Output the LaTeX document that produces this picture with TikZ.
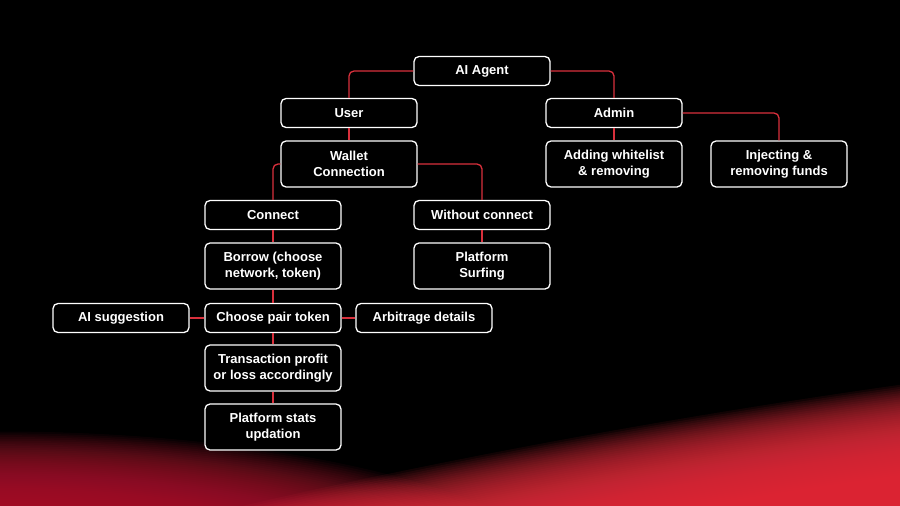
\documentclass[tikz,border=0pt]{standalone}
\usepackage{fontspec}
\setmainfont{Liberation Sans}
\definecolor{linkred}{HTML}{D9303C}
\definecolor{glowred}{HTML}{E8303F}
\definecolor{darkglow}{HTML}{B81B33}
\begin{document}
\begin{tikzpicture}[x=1pt,y=-1pt,
  box/.style={draw=white, line width=1.3pt, rounded corners=5pt, fill=black,
    text=white, minimum width=136pt, align=center, inner sep=0pt,
    font=\bfseries\fontsize{13}{16}\selectfont},
  one/.style={box, minimum height=29pt},
  two/.style={box, minimum height=46pt},
  link/.style={draw=linkred, line width=1.3pt, rounded corners=5pt}]
% background
\fill[black] (0,0) rectangle (900,506);
\begin{scope}
\clip (0,0) rectangle (900,506);
\foreach \i in {0,...,50}{
  \pgfmathsetmacro\s{1.3-0.0125*\i}
  \fill[darkglow, opacity=0.06] (0,620) ellipse [x radius=\s*470pt, y radius=\s*145pt];
}
\foreach \i in {0,...,60}{
  \pgfmathsetmacro\s{1.35-0.0125*\i}
  \fill[glowred, opacity=0.075, rotate around={9:(800,625)}] (800,625) ellipse [x radius=\s*1000pt, y radius=\s*165pt];
}
\end{scope}
\useasboundingbox (0,0) rectangle (900,506);
% nodes
\node[one] (agent) at (482,71) {AI Agent};
\node[one] (user) at (349,113) {User};
\node[one] (admin) at (614,113) {Admin};
\node[two] (wallet) at (349,164) {Wallet\\Connection};
\node[two] (white) at (614,164) {Adding whitelist\\\& removing};
\node[two] (inject) at (779,164) {Injecting \&\\removing funds};
\node[one] (connect) at (273,215) {Connect};
\node[one] (without) at (482,215) {Without connect};
\node[two] (borrow) at (273,266) {Borrow (choose\\network, token)};
\node[two] (surf) at (482,266) {Platform\\Surfing};
\node[one] (pair) at (273,318) {Choose pair token};
\node[one] (aisug) at (121,318) {AI suggestion};
\node[one] (arb) at (424,318) {Arbitrage details};
\node[two] (trans) at (273,368) {Transaction profit\\or loss accordingly};
\node[two] (stats) at (273,427) {Platform stats\\updation};
% connectors
\draw[link] (agent.west) -| (user.north);
\draw[link] (agent.east) -| (admin.north);
\draw[link] (user.south) -- (wallet.north);
\draw[link] (admin.south) -- (white.north);
\draw[link] (admin.east) -| (inject.north);
\draw[link] (wallet.west) -| (connect.north);
\draw[link] (wallet.east) -| (without.north);
\draw[link] (connect.south) -- (borrow.north);
\draw[link] (without.south) -- (surf.north);
\draw[link] (borrow.south) -- (pair.north);
\draw[link] (pair.west) -- (aisug.east);
\draw[link] (pair.east) -- (arb.west);
\draw[link] (pair.south) -- (trans.north);
\draw[link] (trans.south) -- (stats.north);
\end{tikzpicture}
\end{document}
